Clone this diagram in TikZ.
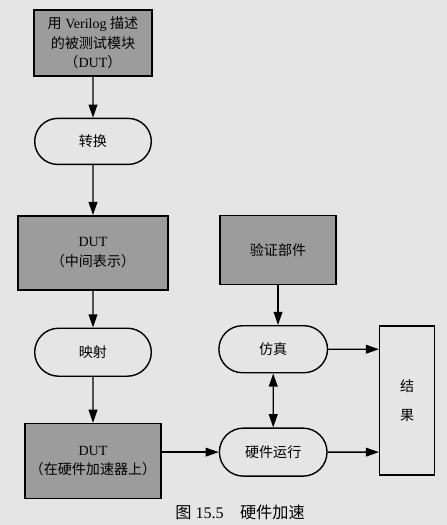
\documentclass[tikz,border=0pt]{standalone}
\usepackage{fontspec}
\setmainfont{Liberation Serif}
\newfontfamily\cjk{Noto Sans CJK SC}
\usetikzlibrary{positioning}
\usetikzlibrary{shapes.misc}
\usetikzlibrary{arrows.meta}
\usetikzlibrary{calc}
\newcommand{\zh}[1]{{\cjk #1}}

\tikzset{
  dutbox/.style={draw, fill=gray!78, align=center, font=\fontsize{10}{14}\selectfont},
  procbox/.style={rounded rectangle, draw, align=center, font=\fontsize{10}{14}\selectfont},
  resbox/.style={draw, align=center, font=\fontsize{10}{14}\selectfont}
}

\begin{document}
\begin{tikzpicture}[>={Triangle[length=3.3mm,width=2.2mm]}, line width=1pt]
\fill[gray!20] (-2.325,1.075) rectangle (8.85,-12.05);
\useasboundingbox (-2.325,1.075) rectangle (8.85,-12.05);
\node[dutbox, minimum width=2.95cm, minimum height=1.65cm] (verilog) at (0,0) {\zh{用} Verilog \zh{描述}\\\zh{的被测试模块}\\\zh{（}DUT\zh{）}};
\node[procbox, minimum width=3.15cm, minimum height=1.15cm, below=1.025cm of verilog] (conv) {\zh{转换}};
 \draw[->] (verilog) -- (conv);
 \node[dutbox, minimum width=3.75cm, minimum height=1.85cm, below=1.25cm of conv] (dutmid) {DUT\\\zh{（中间表示）}};
  \draw[->] (conv) -- (dutmid);
  \node[procbox, minimum width=3.15cm, minimum height=1.2cm, below=0.925cm of dutmid] (mapping) {\zh{映射}};
   \draw[->] (dutmid) -- (mapping);
   \node[dutbox, minimum width=3.4cm, minimum height=1.875cm, below=1.15cm of mapping] (duthw) {DUT\\\zh{（在硬件加速器上）}};
    \draw[->] (mapping) -- (duthw);
\node[procbox, minimum width=2.925cm, minimum height=1.2cm, right=1.425cm of duthw, yshift=0.225cm] (run) {\zh{硬件运行}};
 \draw[->] (duthw.east |- run) -- (run);
 \node[procbox, minimum width=2.95cm, minimum height=1.175cm, above=1.35cm of run] (sim) {\zh{仿真}};
  \draw[<->] (sim) -- (run);
  \node[dutbox, minimum width=2.9cm, minimum height=1.725cm, above=1.0cm of sim, xshift=0.12cm] (verify) {\zh{验证部件}};
   \draw[->] (verify) -- (verify |- sim.north);
\node[resbox, minimum width=1.375cm, minimum height=3.725cm, anchor=west] (result) at ($(sim.east)!0.5!(run.east)+(1.275,0)$) {\zh{结}\\[6pt]\zh{果}};
 \draw[->] (sim) -- (sim -| result.west);
 \draw[->] (run) -- (run -| result.west);
\node[font=\fontsize{11.5}{13}\selectfont] (caption) at (3.675,-11.725) {\zh{图} 15.5\quad\zh{硬件加速}};
\end{tikzpicture}
\end{document}
